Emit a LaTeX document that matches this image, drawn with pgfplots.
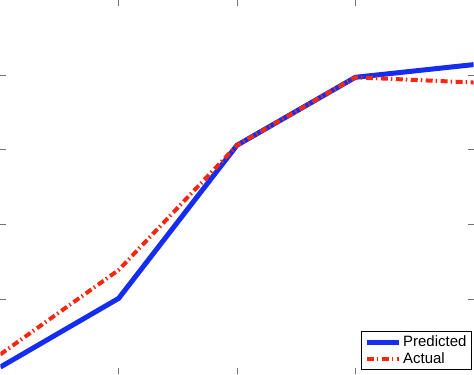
\documentclass[border=0pt]{standalone}
\usepackage{pgfplots}
\pgfplotsset{compat=1.18}
\usepackage{fontspec}
\setmainfont{Liberation Sans}
\definecolor{predblue}{RGB}{20,45,240}
\definecolor{actred}{RGB}{245,40,15}
\begin{document}
\begin{tikzpicture}
\begin{axis}[
  scale only axis,
  width=474pt, height=374pt,
  xmin=0, xmax=4, ymin=0, ymax=5,
  xtick={1,2,3}, ytick={1,2,3,4},
  xticklabels={}, yticklabels={},
  tick label style={overlay},
  tick align=inside,
  major tick length=6pt,
  tick style={draw=black!55, line width=0.8pt},
  axis line style={draw=none},
  legend style={at={(rel axis cs:0.996,0.01)}, anchor=south east,
    draw=black, line width=0.6pt, font=\fontsize{15}{17}\selectfont,
    inner xsep=3pt, inner ysep=3pt, row sep=0pt, cells={anchor=west}},
  legend cell align=left,
  legend image code/.code={\draw[#1] (0cm,0cm) -- (32pt,0cm);},
]
\addplot[predblue, line width=5pt, line join=miter] coordinates {
  (0,0.09) (1,1.01) (2,3.06) (3,3.97) (4,4.14)
};
\addlegendentry{Predicted}
\addplot[actred, line width=4pt, dash pattern=on 7pt off 3pt on 1.5pt off 3.5pt] coordinates {
  (0,0.26) (1,1.39) (2,3.06) (3,3.97) (4,3.90)
};
\addlegendentry{Actual}
\end{axis}
\end{tikzpicture}
\end{document}
